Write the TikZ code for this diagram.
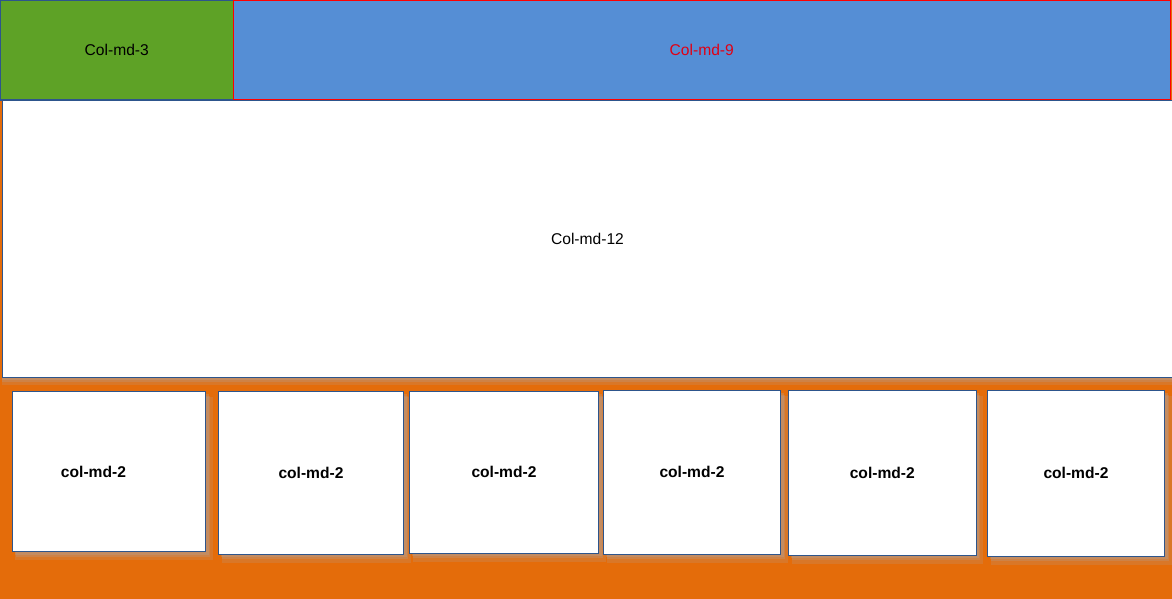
\documentclass[tikz,border=0pt]{standalone}
\usepackage{fontspec}
\setmainfont{Liberation Sans}
\usetikzlibrary{shadows}
\definecolor{bgorange}{RGB}{228,108,10}
\definecolor{colgreen}{RGB}{94,162,38}
\definecolor{colblue}{RGB}{85,142,213}
\definecolor{edgeblue}{RGB}{45,85,140}
\definecolor{labred}{RGB}{225,0,20}
\definecolor{shadowgray}{RGB}{175,165,160}
\tikzset{
  softshadow/.style={
    drop shadow={shadow xshift=5pt, shadow yshift=-7pt, shadow scale=1.02, opacity=0.20, fill=shadowgray},
    drop shadow={shadow xshift=4pt, shadow yshift=-5pt, opacity=0.25, fill=shadowgray},
    drop shadow={shadow xshift=3pt, shadow yshift=-3pt, opacity=0.30, fill=shadowgray}},
  cell/.style={draw=edgeblue, line width=1pt, inner sep=0pt, rectangle,
    font=\fontsize{15.6}{18}\selectfont},
  smallbox/.style={cell, fill=white, softshadow,
    font=\fontsize{15.6}{18}\selectfont\bfseries}
}
\begin{document}
\begin{tikzpicture}[x=1pt,y=-1pt]
\useasboundingbox (0,0) rectangle (1172,599);
\fill[bgorange] (0,0) rectangle (1172,599);
% big white row
\node[cell, fill=white, minimum width=1171pt, minimum height=277pt,
  drop shadow={shadow xshift=0pt, shadow yshift=-8pt, opacity=0.20, fill=shadowgray},
  drop shadow={shadow xshift=0pt, shadow yshift=-5pt, opacity=0.25, fill=shadowgray},
  drop shadow={shadow xshift=0pt, shadow yshift=-3pt, opacity=0.30, fill=shadowgray}]
  (c12) at (587.5,238.7) {Col-md-12};
% top row
\node[cell, fill=colgreen, minimum width=232.5pt, minimum height=99.5pt]
  (c3) at (116.75,50.25) {Col-md-3};
\node[cell, draw=red, fill=colblue, text=labred, minimum width=937.5pt, minimum height=99.5pt]
  (c9) at (701.75,50.25) {Col-md-9};
\draw[edgeblue, line width=1pt] (c3.south west) -- (c9.south east);
% bottom boxes
\node[smallbox, minimum width=193.4pt, minimum height=160.4pt,
  label={[xshift=-15.5pt, font=\fontsize{15.6}{18}\selectfont\bfseries]center:col-md-2}]
  (b1) at (109,471.5) {};
\node[smallbox, minimum width=185.4pt, minimum height=163pt] (b2) at (311,472.8) {col-md-2};
\node[smallbox, minimum width=189.4pt, minimum height=162pt] (b3) at (504,472.3) {col-md-2};
\node[smallbox, minimum width=177.4pt, minimum height=164pt] (b4) at (692,472.3) {col-md-2};
\node[smallbox, minimum width=188pt, minimum height=165pt] (b5) at (882.3,472.8) {col-md-2};
\node[smallbox, minimum width=177.4pt, minimum height=166pt] (b6) at (1076,473.3) {col-md-2};
\end{tikzpicture}
\end{document}
